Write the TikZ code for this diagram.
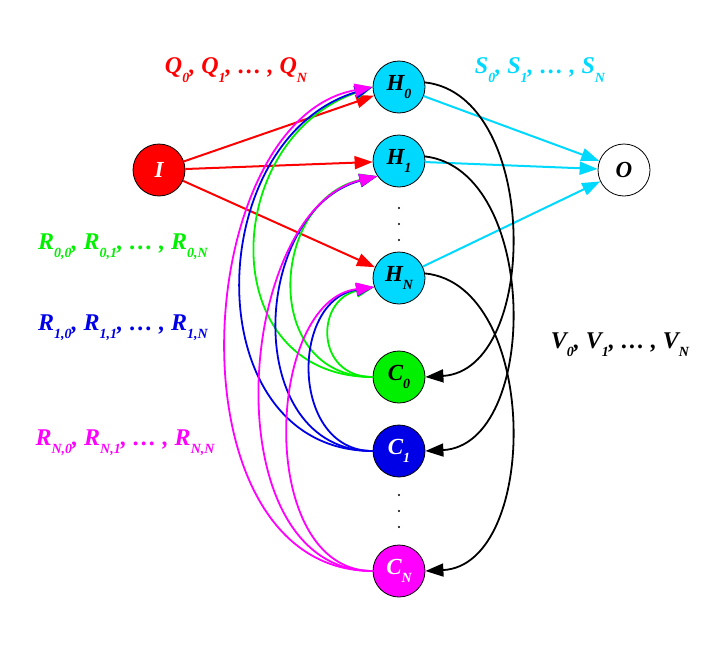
\documentclass[tikz,border=0pt]{standalone}
\usepackage{fontspec}
\setmainfont{Liberation Serif}
\usetikzlibrary{arrows.meta}
\definecolor{cy}{RGB}{0,217,255}
\definecolor{gr}{RGB}{0,240,0}
\definecolor{bl}{RGB}{0,0,230}
\definecolor{mg}{RGB}{255,0,255}
\newcommand{\sbs}[1]{\raisebox{-0.75ex}{\fontsize{14}{14}\selectfont #1}}
\begin{document}
\begin{tikzpicture}[x=1pt,y=-1pt,
  nd/.style={circle,draw=black,line width=0.8pt,minimum size=52pt,inner sep=0pt,font=\bfseries\itshape\fontsize{23}{23}\selectfont},
  lab/.style={font=\bfseries\itshape\fontsize{24}{24}\selectfont},
  dot/.style={circle,fill=black,inner sep=0pt,minimum size=2.4pt},
  arr/.style={-{Triangle[length=18pt,width=13pt]},line width=2pt},
  crv/.style={-{Triangle[length=18pt,width=13pt]},line width=1.8pt}]
\useasboundingbox (0,0) rectangle (726,648);
\node[nd,fill=red,text=white] (I) at (159,170) {I};
\node[nd,fill=cy] (H0) at (399,87) {H\sbs{0}};
\node[nd,fill=cy] (H1) at (399,161) {H\sbs{1}};
\node[nd,fill=cy] (HN) at (399,278) {H\sbs{N}};
\node[nd,fill=gr] (C0) at (399,377) {C\sbs{0}};
\node[nd,fill=bl,text=white] (C1) at (399,451) {C\sbs{1}};
\node[nd,fill=mg,text=white] (CN) at (399,571) {C\sbs{N}};
\node[nd,fill=white] (O) at (624,170) {O};
\foreach \y/\n in {208/a,224/b,240/c} \node[dot] (d1\n) at (399,\y) {};
\foreach \y/\n in {495/a,511/b,527/c} \node[dot] (d2\n) at (399,\y) {};
% labels
\node[lab,text=red] (lq) at (236,70) {Q\sbs{0}, Q\sbs{1}, \dots\ , Q\sbs{N}};
\node[lab,text=cy] (ls) at (540,70) {S\sbs{0}, S\sbs{1}, \dots\ , S\sbs{N}};
\node[lab,text=gr] (lr0) at (123,247) {R\sbs{0,0}, R\sbs{0,1}, \dots\ , R\sbs{0,N}};
\node[lab,text=bl] (lr1) at (123,328) {R\sbs{1,0}, R\sbs{1,1}, \dots\ , R\sbs{1,N}};
\node[lab,text=mg] (lrn) at (125,443) {R\sbs{N,0}, R\sbs{N,1}, \dots\ , R\sbs{N,N}};
\node[lab,text=black] (lv) at (620,345) {V\sbs{0}, V\sbs{1}, \dots\ , V\sbs{N}};
% red
\foreach \h in {H0,H1,HN} \draw[arr,red] (I) -- (\h);
% cyan
\foreach \h in {H0,H1,HN} \draw[arr,cy] (\h) -- (O);
% black
\draw[crv,black] (H0.10) .. controls (540,95) and (540,370) .. (C0.east);
\draw[crv,black] (H1.10) .. controls (540,170) and (540,445) .. (C1.east);
\draw[crv,black] (HN.10) .. controls (540,285) and (540,565) .. (CN.east);
% green
\draw[crv,gr] (C0.west) .. controls (213,377) and (220,140) .. (H0.west);
\draw[crv,gr] (C0.west) .. controls (260,377) and (270,200) .. (H1.215);
\draw[crv,gr] (C0.west) .. controls (315,377) and (315,300) .. (HN.200);
% blue
\draw[crv,bl] (C1.west) .. controls (195,451) and (200,140) .. (H0.west);
\draw[crv,bl] (C1.west) .. controls (240,451) and (250,210) .. (H1.215);
\draw[crv,bl] (C1.west) .. controls (290,451) and (290,300) .. (HN.200);
% magenta
\draw[crv,mg] (CN.west) .. controls (165,571) and (190,120) .. (H0.west);
\draw[crv,mg] (CN.west) .. controls (210,571) and (235,210) .. (H1.215);
\draw[crv,mg] (CN.west) .. controls (255,571) and (265,300) .. (HN.200);
\end{tikzpicture}
\end{document}
